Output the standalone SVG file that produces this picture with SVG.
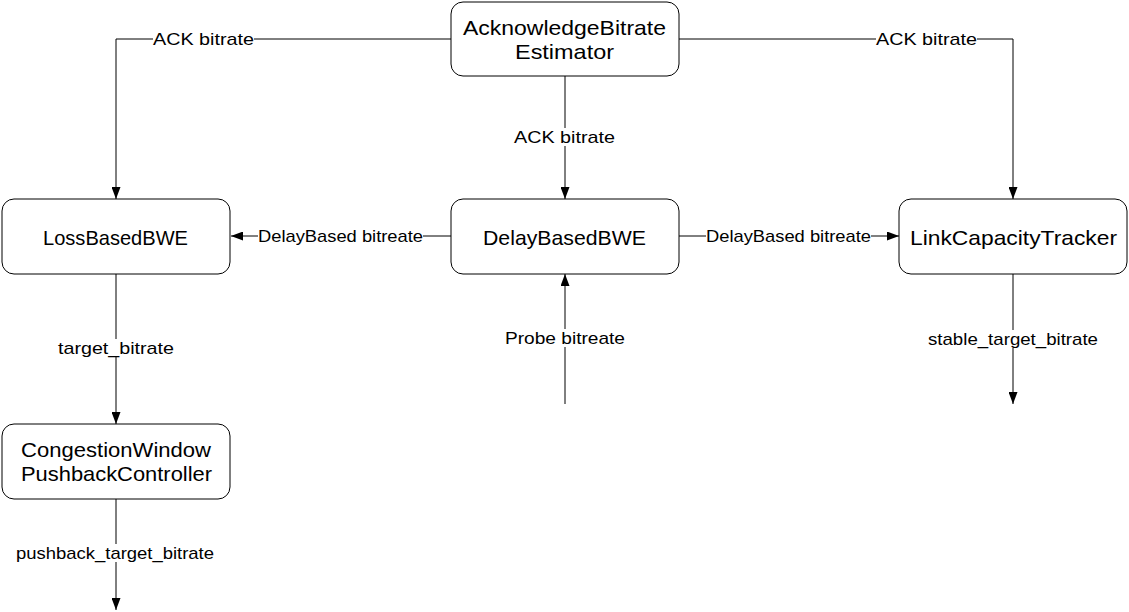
<svg xmlns="http://www.w3.org/2000/svg" width="1129" height="612" viewBox="0 0 1129 612">
<style>
.node rect{fill:#fff;stroke:#000;stroke-width:1}
.node text{font-family:"Liberation Sans",Arial,sans-serif;font-size:21px;fill:#000;text-anchor:middle;dominant-baseline:central}
.edge{fill:none;stroke:#000;stroke-width:1}
.lbl{font-family:"Liberation Sans",Arial,sans-serif;font-size:17px;fill:#000;text-anchor:middle;dominant-baseline:central}
.bg{fill:#fff}
</style>
<defs>
<marker id="arr" viewBox="0 0 12 9" refX="12" refY="4.5" markerWidth="12" markerHeight="9" markerUnits="userSpaceOnUse" orient="auto">
<path d="M0,0 L12,4.5 L0,9 Z" fill="#000"/>
</marker>
</defs>
<rect width="1129" height="612" fill="#fff"/>
<g id="connectors">
<path class="edge" d="M451,39 H116 V199" marker-end="url(#arr)"/>
<path class="edge" d="M679,39 H1013 V199" marker-end="url(#arr)"/>
<path class="edge" d="M565,76 V199" marker-end="url(#arr)"/>
<path class="edge" d="M451,236 H231" marker-end="url(#arr)"/>
<path class="edge" d="M679,236 H899" marker-end="url(#arr)"/>
<path class="edge" d="M565,404 V274" marker-end="url(#arr)"/>
<path class="edge" d="M116,274 V424" marker-end="url(#arr)"/>
<path class="edge" d="M1013,274 V404" marker-end="url(#arr)"/>
<path class="edge" d="M116,499 V610" marker-end="url(#arr)"/>
<rect class="bg" x="153" y="30" width="101" height="18"/>
<text class="lbl" x="203.5" y="39" textLength="101" lengthAdjust="spacingAndGlyphs">ACK bitrate</text>
<rect class="bg" x="876" y="30" width="101" height="18"/>
<text class="lbl" x="926.5" y="39" textLength="101" lengthAdjust="spacingAndGlyphs">ACK bitrate</text>
<rect class="bg" x="514" y="128" width="101" height="18"/>
<text class="lbl" x="564.5" y="137" textLength="101" lengthAdjust="spacingAndGlyphs">ACK bitrate</text>
<rect class="bg" x="258" y="227" width="165" height="18"/>
<text class="lbl" x="340.5" y="236" textLength="165" lengthAdjust="spacingAndGlyphs">DelayBased bitreate</text>
<rect class="bg" x="706" y="227" width="165" height="18"/>
<text class="lbl" x="788.5" y="236" textLength="165" lengthAdjust="spacingAndGlyphs">DelayBased bitreate</text>
<rect class="bg" x="505" y="329" width="120" height="18"/>
<text class="lbl" x="565" y="338" textLength="120" lengthAdjust="spacingAndGlyphs">Probe bitreate</text>
<rect class="bg" x="58" y="339" width="116" height="18"/>
<text class="lbl" x="116" y="348" textLength="116" lengthAdjust="spacingAndGlyphs">target_bitrate</text>
<rect class="bg" x="928" y="330" width="170" height="18"/>
<text class="lbl" x="1013" y="339" textLength="170" lengthAdjust="spacingAndGlyphs">stable_target_bitrate</text>
<rect class="bg" x="16" y="544" width="198" height="18"/>
<text class="lbl" x="115" y="553" textLength="198" lengthAdjust="spacingAndGlyphs">pushback_target_bitrate</text>
</g>
<g id="node-abe" class="node">
<rect x="451" y="2" width="228" height="74" rx="12"/>
<text x="564.5" y="27" textLength="203" lengthAdjust="spacingAndGlyphs">AcknowledgeBitrate</text>
<text x="564.5" y="51" textLength="99" lengthAdjust="spacingAndGlyphs">Estimator</text>
</g>
<g id="node-loss" class="node">
<rect x="2" y="199" width="228" height="75" rx="12"/>
<text x="115.5" y="237" textLength="145" lengthAdjust="spacingAndGlyphs">LossBasedBWE</text>
</g>
<g id="node-delay" class="node">
<rect x="451" y="199" width="228" height="75" rx="12"/>
<text x="564.5" y="237" textLength="163" lengthAdjust="spacingAndGlyphs">DelayBasedBWE</text>
</g>
<g id="node-link" class="node">
<rect x="899" y="199" width="228" height="75" rx="12"/>
<text x="1013.5" y="237" textLength="207" lengthAdjust="spacingAndGlyphs">LinkCapacityTracker</text>
</g>
<g id="node-cw" class="node">
<rect x="2" y="424" width="228" height="75" rx="12"/>
<text x="116" y="449" textLength="190" lengthAdjust="spacingAndGlyphs">CongestionWindow</text>
<text x="116.5" y="473" textLength="191" lengthAdjust="spacingAndGlyphs">PushbackController</text>
</g>
</svg>
